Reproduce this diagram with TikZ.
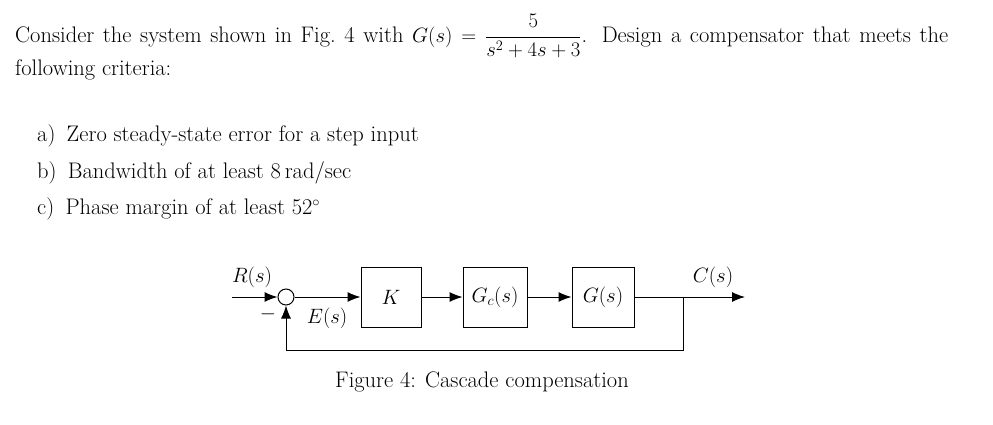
\documentclass[tikz,border=0pt]{standalone}
\usetikzlibrary{arrows.meta}
\begin{document}
\begin{tikzpicture}[x=1pt,y=-1pt,
  every node/.style={font=\fontsize{22.5}{27}\selectfont},
  blk/.style={draw,minimum width=60pt,minimum height=60pt,inner sep=0pt},
  arr/.style={-{Latex[length=13pt,width=10pt]}},
  ln/.style={line width=1pt}]
\useasboundingbox (0,0) rectangle (993,424);
\node[anchor=base west,inner sep=0pt] (l1) at (15,42) {\makebox[933pt][s]{Consider the system shown in Fig.~4 with $G(s)=\displaystyle\frac{5}{s^2+4s+3}$. Design a compensator that meets the}};
\node[anchor=base west,inner sep=0pt] (l2) at (15,75) {following criteria:};
\node[anchor=base west,inner sep=0pt] (ia) at (37,141) {a)\enspace Zero steady-state error for a step input};
\node[anchor=base west,inner sep=0pt] (ib) at (37,178) {b)\enspace Bandwidth of at least 8\,rad/sec};
\node[anchor=base west,inner sep=0pt] (ic) at (37,214) {c)\enspace Phase margin of at least 52$^\circ$};
% diagram
\node[draw,circle,minimum size=16pt,inner sep=0pt,ln] (sum) at (286,297) {};
\node[blk,ln] (K) at (391,297) {$K$};
\node[blk,ln,minimum width=64pt] (Gc) at (495,297) {$G_c(s)$};
\node[blk,ln,minimum width=62pt] (G) at (603,297) {$G(s)$};
\coordinate (in) at (232,297);
\coordinate (out) at (745,297);
\coordinate (br) at (683,297);
\coordinate (fb1) at (683,350);
\coordinate (fb2) at (286,350);
\draw[arr,ln] (in) -- (sum.west);
\draw[arr,ln] (sum.east) -- (K.west);
\draw[arr,ln] (K.east) -- (Gc.west);
\draw[arr,ln] (Gc.east) -- (G.west);
\draw[arr,ln] (G.east) -- (out);
\draw[arr,ln] (br) -- (fb1) -- (fb2) -- (sum.south);
\node (R) at (252,277) {$R(s)$};
\node (E) at (327,318) {$E(s)$};
\node (m) at (268,314) {$-$};
\node (C) at (713,277) {$C(s)$};
\node (cap) at (482,382) {Figure 4: Cascade compensation};
\end{tikzpicture}
\end{document}
